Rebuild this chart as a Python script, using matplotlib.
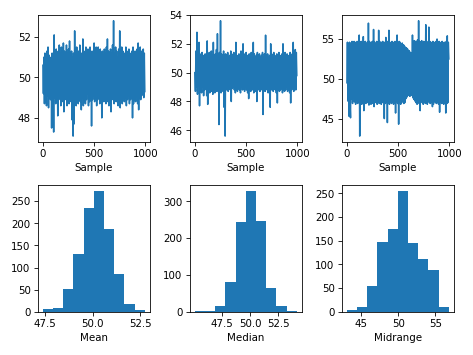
import numpy as np
import matplotlib
matplotlib.use("Agg")
import matplotlib.pyplot as plt

# ---------------------------------------------------------------------------
# top row: sampled series (values read off the picture, every 5th sample)
# ---------------------------------------------------------------------------
SAMPLE_STEP = 5

series_mean = [
    50.6, 49.2, 51.0, 48.7, 51.2, 49.0, 50.9, 48.6, 51.3, 49.1, 51.5, 48.5, 51.1, 49.3, 50.8, 48.9, 51.0, 47.5, 51.2, 48.8,
    50.9, 47.3, 52.1, 49.0, 51.1, 48.7, 51.4, 49.2, 51.0, 48.1, 51.3, 48.9, 51.6, 49.1, 50.9, 48.6, 51.5, 49.0, 51.2, 48.8,
    51.7, 48.3, 51.3, 49.1, 51.0, 48.9, 51.6, 48.6, 51.2, 49.0, 51.4, 48.7, 51.8, 49.2, 51.1, 48.8, 51.3, 47.9, 51.0, 47.1,
    51.2, 47.7, 52.3, 48.9, 51.0, 48.6, 51.5, 49.2, 51.1, 48.7, 51.3, 49.0, 51.6, 48.8, 50.9, 48.4, 51.2, 49.1, 51.9, 48.6,
    51.3, 49.0, 51.0, 48.7, 51.5, 48.9, 51.2, 49.2, 51.4, 48.6, 51.1, 48.8, 51.5, 49.0, 51.2, 47.6, 51.3, 48.9, 51.0, 49.1,
    51.7, 48.8, 51.2, 49.0, 51.5, 48.6, 51.3, 48.9, 51.5, 49.2, 51.0, 48.7, 51.4, 48.9, 51.2, 48.0, 51.3, 49.1, 51.0, 48.8,
    51.4, 49.0, 51.2, 48.7, 51.5, 49.1, 51.9, 48.8, 51.3, 48.6, 51.1, 49.0, 51.4, 48.3, 51.2, 48.9, 51.6, 49.1, 52.8, 48.7,
    51.2, 49.0, 51.5, 48.8, 51.3, 49.1, 51.0, 48.6, 51.4, 48.9, 52.3, 48.5, 51.2, 49.0, 51.5, 48.7, 51.3, 49.1, 51.0, 48.8,
    51.2, 49.0, 51.5, 48.6, 51.3, 48.9, 51.1, 49.1, 51.4, 48.7, 51.2, 48.9, 51.0, 49.0, 51.3, 48.0, 51.5, 48.7, 51.1, 49.0,
    51.3, 48.8, 51.0, 49.1, 51.4, 48.7, 51.7, 48.4, 51.2, 49.0, 51.5, 48.9, 51.3, 49.1, 51.0, 49.2, 51.4, 49.0, 51.2, 49.3,
]

series_median = [
    50.0, 48.7, 51.5, 49.0, 52.8, 48.5, 51.2, 49.1, 52.1, 47.7, 51.3, 48.9, 51.0, 48.6, 51.4, 49.0, 51.2, 48.4, 51.1, 48.8,
    51.3, 49.0, 51.0, 48.4, 52.2, 47.8, 51.2, 48.9, 51.4, 48.6, 51.1, 49.0, 51.5, 48.7, 51.2, 48.5, 52.1, 48.9, 51.0, 48.6,
    51.3, 48.9, 51.6, 48.7, 52.7, 49.0, 51.2, 46.4, 51.4, 48.8, 53.6, 48.6, 51.3, 49.0, 51.1, 48.7, 51.5, 47.6, 51.2, 45.6,
    51.3, 48.8, 51.0, 49.0, 51.4, 48.7, 51.1, 48.9, 51.2, 48.8, 51.5, 48.0, 51.3, 48.9, 51.1, 49.0, 51.4, 48.8, 51.0, 48.6,
    52.1, 48.9, 51.2, 48.7, 51.0, 49.0, 51.3, 48.8, 51.1, 48.6, 51.5, 49.0, 51.2, 48.8, 52.0, 48.9, 51.3, 48.7, 51.1, 49.0,
    51.4, 48.8, 51.2, 48.6, 51.0, 48.2, 51.3, 48.9, 51.1, 48.7, 51.4, 49.0, 51.2, 48.8, 52.1, 48.6, 51.3, 48.9, 51.0, 48.7,
    51.2, 48.0, 51.4, 48.9, 51.1, 48.8, 51.3, 48.7, 51.0, 49.0, 51.2, 48.8, 51.4, 47.1, 51.1, 48.9, 51.3, 48.7, 52.6, 48.9,
    51.1, 48.8, 51.3, 48.6, 51.0, 48.9, 51.2, 47.6, 52.0, 48.8, 51.3, 49.0, 51.1, 48.7, 51.4, 48.9, 51.2, 48.8, 51.0, 48.6,
    51.3, 47.9, 51.1, 48.9, 51.4, 48.7, 51.2, 48.8, 51.0, 49.0, 51.3, 48.6, 52.0, 48.9, 51.1, 48.7, 51.4, 48.8, 51.2, 49.0,
    51.3, 48.7, 51.0, 48.9, 51.2, 48.6, 51.4, 47.9, 51.1, 48.8, 51.3, 49.0, 52.1, 48.7, 51.2, 48.9, 51.6, 48.8, 51.4, 49.8,
]

series_midrange = [
    49.5, 54.6, 47.2, 54.3, 45.3, 54.6, 47.0, 45.1, 54.5, 47.5, 54.7, 46.9, 54.4, 47.8, 54.7, 47.1, 54.6, 46.8, 54.5, 47.3,
    54.7, 46.9, 54.6, 47.2, 55.5, 42.8, 54.6, 47.0, 54.7, 46.8, 54.5, 47.3, 55.3, 46.0, 54.6, 47.1, 54.7, 46.9, 54.4, 47.4,
    54.6, 47.0, 57.0, 46.7, 54.7, 47.2, 54.5, 46.8, 54.6, 47.1, 54.7, 46.9, 56.2, 46.5, 54.6, 47.3, 54.4, 47.0, 54.7, 46.8,
    54.6, 47.2, 56.1, 46.9, 54.7, 47.1, 54.5, 46.8, 54.6, 47.0, 54.7, 47.3, 54.4, 45.0, 54.6, 46.9, 55.2, 47.1, 54.5, 44.5,
    54.7, 47.0, 56.1, 46.8, 54.6, 47.2, 54.5, 46.9, 54.7, 47.1, 54.6, 46.8, 54.4, 47.0, 54.7, 45.7, 54.6, 47.2, 55.5, 46.9,
    54.5, 44.3, 54.7, 47.1, 54.6, 46.8, 54.4, 47.0, 54.5, 47.2, 54.3, 46.9, 54.2, 47.0, 54.0, 47.5, 53.9, 47.7, 53.8, 47.9,
    53.6, 48.0, 53.5, 47.8, 53.3, 48.0, 53.2, 47.9, 55.5, 47.6, 54.7, 47.4, 54.8, 47.2, 54.6, 47.0, 54.7, 46.8, 54.9, 47.1,
    57.3, 46.9, 54.7, 46.0, 54.6, 47.2, 54.8, 47.0, 54.5, 46.8, 54.7, 47.1, 54.6, 46.9, 56.8, 47.0, 54.7, 46.8, 54.5, 47.2,
    56.5, 47.0, 54.7, 46.9, 54.6, 47.1, 54.5, 46.5, 54.7, 46.8, 54.6, 47.2, 54.4, 47.0, 54.7, 46.9, 55.0, 47.1, 54.6, 46.8,
    54.7, 45.8, 54.5, 47.1, 54.6, 46.9, 54.7, 47.0, 54.4, 46.8, 54.6, 47.2, 54.5, 45.7, 54.7, 46.9, 55.4, 47.0, 54.6, 52.5,
]

# ---------------------------------------------------------------------------
# bottom row: histogram counts (10 bins) and bin ranges
# ---------------------------------------------------------------------------
mean_counts = [6, 9, 52, 130, 235, 273, 188, 86, 17, 5]
mean_range = (47.37, 52.75)

median_counts = [2, 2, 17, 80, 244, 328, 246, 66, 17, 2]
median_range = (45.07, 54.17)

midrange_counts = [3, 10, 54, 148, 174, 255, 146, 111, 89, 10]
midrange_range = (43.08, 56.84)

hist_xticks = [47.5, 50.0, 52.5]

TOP = [series_mean, series_median, series_midrange]
BOTTOM = [
    ("Mean", mean_counts, mean_range),
    ("Median", median_counts, median_range),
    ("Midrange", midrange_counts, midrange_range),
]


def main():
    # default 6.4x4.8 figure, rendered at 74 dpi -> ~474x355 px
    fig, axes = plt.subplots(2, 3, figsize=(6.4, 4.8))

    for ax, vals in zip(axes[0], TOP):
        x = np.arange(len(vals)) * SAMPLE_STEP
        ax.plot(x, vals)
        ax.set_xlabel("Sample")

    for ax, (label, counts, (lo, hi)) in zip(axes[1], BOTTOM):
        edges = np.linspace(lo, hi, len(counts) + 1)
        ax.hist(edges[:-1], bins=edges, weights=counts)
        ax.set_xlabel(label)

    # mean and median histograms use the same tick positions
    axes[1][0].set_xticks(hist_xticks)
    axes[1][1].set_xticks(hist_xticks)

    fig.tight_layout()
    fig.savefig("out.png", dpi=74)
    plt.close(fig)


if __name__ == "__main__":
    main()
